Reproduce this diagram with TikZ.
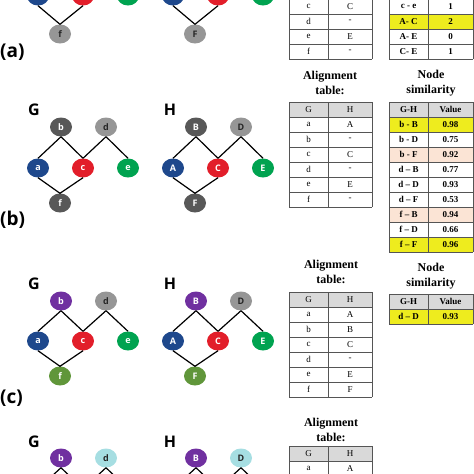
\documentclass[tikz,border=0pt]{standalone}
\usepackage{fontspec}
\setmainfont{Liberation Serif}
\setsansfont{Open Sans}
\usetikzlibrary{shapes.geometric, positioning, calc}

\definecolor{nodeblue}{RGB}{30,72,140}
\definecolor{nodered}{RGB}{226,30,42}
\definecolor{nodegreen}{RGB}{0,163,80}
\definecolor{darkgrey}{RGB}{88,88,88}
\definecolor{lightgrey}{RGB}{150,150,150}
\definecolor{nodepurple}{RGB}{112,48,160}
\definecolor{olivegreen}{RGB}{96,150,58}
\definecolor{lightcyan}{RGB}{166,222,226}
\definecolor{hiyellow}{RGB}{238,236,30}
\definecolor{hipeach}{RGB}{251,228,213}
\definecolor{headgrey}{RGB}{217,217,217}
\definecolor{rulegrey}{RGB}{85,85,85}

\begin{document}
\begin{tikzpicture}[x=1pt, y=-1pt,
  vertex/.style={ellipse, minimum width=22pt, minimum height=19pt, inner sep=0pt, text=white, font=\sffamily\bfseries\fontsize{9}{9}\selectfont},
  darkvertex/.style={vertex, text=black!85},
  edge/.style={line width=1.2pt, line join=round},
  graphname/.style={font=\sffamily\bfseries\fontsize{16}{16}\selectfont},
  panel/.style={font=\sffamily\bfseries\fontsize{19}{19}\selectfont, anchor=west, inner sep=0pt},
  tabtitle/.style={font=\bfseries\fontsize{12}{15}\selectfont, align=center},
  cell/.style={font=\fontsize{9}{9}\selectfont},
  bcell/.style={font=\bfseries\fontsize{9}{9}\selectfont},
  tabrule/.style={rulegrey, line width=0.8pt}]

\useasboundingbox (0,0) rectangle (474,474);
\clip (0,0) rectangle (474,474);

% Panel labels
\node[panel] (lbl-a) at (0,52) {(a)};
\node[panel] (lbl-b) at (0,220) {(b)};
\node[panel] (lbl-c) at (0,398) {(c)};

% ---------------- (a) lower half of G and H
\foreach \n/\t/\x/\y/\c/\k in {aG-a/a/38/-4/nodeblue/vertex, aG-c/c/83/-4/nodered/vertex, aG-e/e/128/-4/nodegreen/vertex, aG-f/f/60/34/lightgrey/darkvertex,
  aH-A/A/173/-4/nodeblue/vertex, aH-C/C/218/-4/nodered/vertex, aH-E/E/263/-4/nodegreen/vertex, aH-F/F/195/34/lightgrey/darkvertex}
  \node[\k, fill=\c] (\n) at (\x,\y) {\t};
\draw[edge] (aG-a.south) -- (aG-f.north) -- (aG-c.south);
\draw[edge] (aH-A.south) -- (aH-F.north) -- (aH-C.south);

% Alignment table (a)
\foreach \g/\h [count=\i] in {c/C, d/-, e/E, f/-}
{
  \node[cell] (ala-g\i) at (308.5,-8.5+15*\i) {\g};
  \node[cell] (ala-h\i) at (350,-8.5+15*\i) {\h};
}
\foreach \y in {-1,14,...,59} \draw[tabrule] (289,\y) -- (372,\y);
\foreach \x in {289,328,372} \draw[tabrule] (\x,-10) -- (\x,59);

% Node similarity table (a)
\foreach \p/\v/\c [count=\i] in {c - e/1/white, A- C/2/hiyellow, A- E/0/white, C- E/1/white}
{
  \fill[\c] (389,-16+15*\i) rectangle (473,-1+15*\i);
  \node[bcell] (sima-p\i) at (408.5,-8.5+15*\i) {\p};
  \node[bcell] (sima-v\i) at (450.5,-8.5+15*\i) {\v};
}
\foreach \y in {-1,14,...,59} \draw[tabrule] (389,\y) -- (473,\y);
\foreach \x in {389,428,473} \draw[tabrule] (\x,-10) -- (\x,59);

% ---------------- (b)
\node[graphname] (gb-G) at (34,110) {G};
\node[graphname] (gb-H) at (170,110) {H};
\foreach \n/\t/\x/\y/\c/\k in {bG-b/b/61/127/darkgrey/vertex, bG-d/d/106/127/lightgrey/darkvertex, bG-a/a/38/168/nodeblue/vertex, bG-c/c/83/168/nodered/vertex, bG-e/e/128/168/nodegreen/vertex, bG-f/f/60/203/darkgrey/vertex,
  bH-B/B/196/127/darkgrey/vertex, bH-D/D/241/127/lightgrey/darkvertex, bH-A/A/173/168/nodeblue/vertex, bH-C/C/218/168/nodered/vertex, bH-E/E/263/168/nodegreen/vertex, bH-F/F/195/203/darkgrey/vertex}
  \node[\k, fill=\c] (\n) at (\x,\y) {\t};
\draw[edge] (bG-a.north) -- (bG-b.south) -- (bG-c.north) -- (bG-d.south) -- (bG-e.north);
\draw[edge] (bG-a.south) -- (bG-f.north) -- (bG-c.south);
\draw[edge] (bH-A.north) -- (bH-B.south) -- (bH-C.north) -- (bH-D.south) -- (bH-E.north);
\draw[edge] (bH-A.south) -- (bH-F.north) -- (bH-C.south);

% Alignment table (b)
\node[tabtitle] (altb) at (330,83) {Alignment\\table:};
\fill[headgrey] (289,102) rectangle (372,117);
\node[cell] (alb-hg) at (308.5,109.5) {G};
\node[cell] (alb-hh) at (350,109.5) {H};
\foreach \g/\h [count=\i] in {a/A, b/-, c/C, d/-, e/E, f/-}
{
  \node[cell] (alb-g\i) at (308.5,109.5+15*\i) {\g};
  \node[cell] (alb-h\i) at (350,109.5+15*\i) {\h};
}
\foreach \y in {102,117,...,207} \draw[tabrule] (289,\y) -- (372,\y);
\foreach \x in {289,328,372} \draw[tabrule] (\x,102) -- (\x,207);

% Node similarity table (b)
\node[tabtitle] (simtb) at (431,83) {Node\\similarity};
\fill[headgrey] (389,102) rectangle (473,117);
\node[bcell] (simb-hp) at (408.5,109.5) {G-H};
\node[bcell] (simb-hv) at (450.5,109.5) {Value};
\foreach \p/\v/\c [count=\i] in {b - B/0.98/hiyellow, b - D/0.75/white, b - F/0.92/hipeach, d – B/0.77/white, d – D/0.93/white, d – F/0.53/white, f – B/0.94/hipeach, f – D/0.66/white, f – F/0.96/hiyellow}
{
  \fill[\c] (389,102+15*\i) rectangle (473,117+15*\i);
  \node[bcell] (simb-p\i) at (408.5,109.5+15*\i) {\p};
  \node[bcell] (simb-v\i) at (450.5,109.5+15*\i) {\v};
}
\foreach \y in {102,117,...,252} \draw[tabrule] (389,\y) -- (473,\y);
\foreach \x in {389,428,473} \draw[tabrule] (\x,102) -- (\x,252);

% ---------------- (c)
\node[graphname] (gc-G) at (34,284) {G};
\node[graphname] (gc-H) at (170,284) {H};
\foreach \n/\t/\x/\y/\c/\k in {cG-b/b/61/301/nodepurple/vertex, cG-d/d/106/301/lightgrey/darkvertex, cG-a/a/38/341/nodeblue/vertex, cG-c/c/83/341/nodered/vertex, cG-e/e/128/341/nodegreen/vertex, cG-f/f/60/376/olivegreen/vertex,
  cH-B/B/196/301/nodepurple/vertex, cH-D/D/241/301/lightgrey/darkvertex, cH-A/A/173/341/nodeblue/vertex, cH-C/C/218/341/nodered/vertex, cH-E/E/263/341/nodegreen/vertex, cH-F/F/195/376/olivegreen/vertex}
  \node[\k, fill=\c] (\n) at (\x,\y) {\t};
\draw[edge] (cG-a.north) -- (cG-b.south) -- (cG-c.north) -- (cG-d.south) -- (cG-e.north);
\draw[edge] (cG-a.south) -- (cG-f.north) -- (cG-c.south);
\draw[edge] (cH-A.north) -- (cH-B.south) -- (cH-C.north) -- (cH-D.south) -- (cH-E.north);
\draw[edge] (cH-A.south) -- (cH-F.north) -- (cH-C.south);

% Alignment table (c)
\node[tabtitle] (altc) at (331,272) {Alignment\\table:};
\fill[headgrey] (289,292) rectangle (372,307);
\node[cell] (alc-hg) at (308.5,299.5) {G};
\node[cell] (alc-hh) at (350,299.5) {H};
\foreach \g/\h [count=\i] in {a/A, b/B, c/C, d/-, e/E, f/F}
{
  \node[cell] (alc-g\i) at (308.5,299.5+15*\i) {\g};
  \node[cell] (alc-h\i) at (350,299.5+15*\i) {\h};
}
\foreach \y in {292,307,...,397} \draw[tabrule] (289,\y) -- (372,\y);
\foreach \x in {289,328,372} \draw[tabrule] (\x,292) -- (\x,397);

% Node similarity table (c)
\node[tabtitle] (simtc) at (431,276) {Node\\similarity};
\fill[headgrey] (389,294) rectangle (473,309);
\fill[hiyellow] (389,309) rectangle (473,324);
\node[bcell] (simc-hp) at (408.5,301.5) {G-H};
\node[bcell] (simc-hv) at (450.5,301.5) {Value};
\node[bcell] (simc-p1) at (408.5,316.5) {d – D};
\node[bcell] (simc-v1) at (450.5,316.5) {0.93};
\foreach \y in {294,309,324} \draw[tabrule] (389,\y) -- (473,\y);
\foreach \x in {389,428,473} \draw[tabrule] (\x,294) -- (\x,324);

% ---------------- (d) upper part of G and H
\node[graphname] (gd-G) at (34,442) {G};
\node[graphname] (gd-H) at (170,442) {H};
\foreach \n/\t/\x/\y/\c/\k in {dG-b/b/61/458/nodepurple/vertex, dG-d/d/106/458/lightcyan/darkvertex,
  dH-B/B/196/458/nodepurple/vertex, dH-D/D/241/458/lightcyan/darkvertex}
  \node[\k, fill=\c] (\n) at (\x,\y) {\t};
\foreach \n/\x in {dG-an/38, dG-cn/83, dG-en/128, dH-an/173, dH-cn/218, dH-en/263}
  \coordinate (\n) at (\x,489);
\draw[edge] (dG-an) -- (dG-b.south) -- (dG-cn) -- (dG-d.south) -- (dG-en);
\draw[edge] (dH-an) -- (dH-B.south) -- (dH-cn) -- (dH-D.south) -- (dH-en);

% Alignment table (d)
\node[tabtitle] (altd) at (331,430) {Alignment\\table:};
\fill[headgrey] (289,446) rectangle (372,461);
\node[cell] (ald-hg) at (308.5,453.5) {G};
\node[cell] (ald-hh) at (350,453.5) {H};
\node[cell] (ald-g1) at (308.5,468.5) {a};
\node[cell] (ald-h1) at (350,468.5) {A};
\foreach \y in {446,461,476} \draw[tabrule] (289,\y) -- (372,\y);
\foreach \x in {289,328,372} \draw[tabrule] (\x,446) -- (\x,480);

\end{tikzpicture}
\end{document}
